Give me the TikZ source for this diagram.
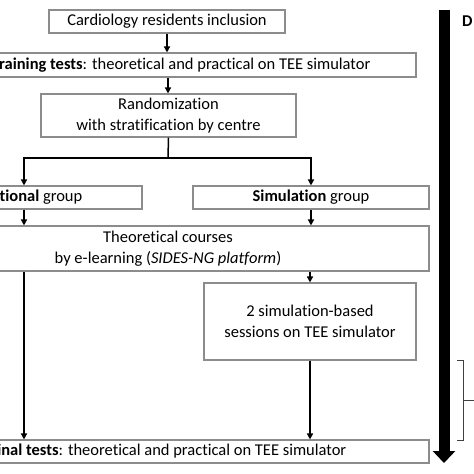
\documentclass[tikz,border=0pt]{standalone}
\usepackage{fontspec}
\setmainfont{Carlito}[Ligatures=NoCommon]
\usetikzlibrary{arrows.meta}
\definecolor{boxgray}{RGB}{140,140,140}
\tikzset{
  box/.style={draw=boxgray, line width=1.1pt, rectangle, inner sep=0pt, align=center,
    font=\fontsize{16.5}{21}\selectfont, text=black},
  arr/.style={draw=black, line width=1.5pt, -{Triangle[length=6pt,width=6pt]}},
  plain/.style={draw=black, line width=1.5pt},
  bigarrow/.style={draw=black, line width=11pt, -{Triangle[length=12pt,width=22pt]}},
  bracket/.style={draw=black!75, line width=0.9pt}
}
\begin{document}
\begin{tikzpicture}[x=1pt,y=-1pt]
\useasboundingbox (0,0) rectangle (474,474);
\clip (0,0) rectangle (474,474);
\fill[white] (0,0) rectangle (474,474);

\node[box, minimum width=236pt, minimum height=23pt] (b1) at (167,21.5) {Cardiology residents inclusion};
\node[box, minimum width=496pt, minimum height=24pt] (b2) at (168,65) {\textbf{Pre-training tests}: theoretical and practical on TEE simulator};
\node[box, minimum width=255pt, minimum height=43pt] (b3) at (168.5,115.5) {Randomization\\with stratification by centre};
\node[box, minimum width=236pt, minimum height=23pt] (gL) at (24,197.5) {\textbf{Traditional} group};
\node[box, minimum width=236pt, minimum height=23pt] (gR) at (311,197.5) {\textbf{Simulation} group};
\node[box, minimum width=522pt, minimum height=45pt] (theo) at (168,248.5) {Theoretical courses\\by e-learning (\textit{SIDES-NG platform})};
\node[box, minimum width=212pt, minimum height=77pt] (sess) at (310,321.5) {2 simulation-based\\sessions on TEE simulator};
\node[box, minimum width=522pt, minimum height=23pt] (fin) at (168,451.5) {\textbf{Final tests}: theoretical and practical on TEE simulator};

\draw[arr] (b1.south) -- (b1.south |- b2.north);
\draw[arr] (b2.south) -- (b2.south |- b3.north);
\coordinate (split) at (168,158);
\draw[plain] (b3.south) -- (split);
\draw[arr] (split) -| (gL.north);
\draw[arr] (split) -| (gR.north);
\draw[arr] (gL.south) -- (gL.south |- theo.north);
\draw[arr] (gR.south) -- (gR.south |- theo.north);
\draw[arr] (sess.north |- theo.south) -- (sess.north);
\draw[arr] (gL.south |- theo.south) -- (gL.south |- fin.north);
\draw[arr] (sess.south) -- (sess.south |- fin.north);

\coordinate (ttop) at (444,10);
\coordinate (tbot) at (444,463);
\draw[bigarrow] (ttop) -- (tbot);
\node[anchor=west, inner sep=0pt, font=\fontsize{16.5}{21}\selectfont\bfseries] (dlab) at (462,21.5) {D};

\draw[bracket] (457,360) -- (463,360) -- (463,440) -- (457,440);
\draw[bracket] (463,400) -- (474,400);
\end{tikzpicture}
\end{document}
